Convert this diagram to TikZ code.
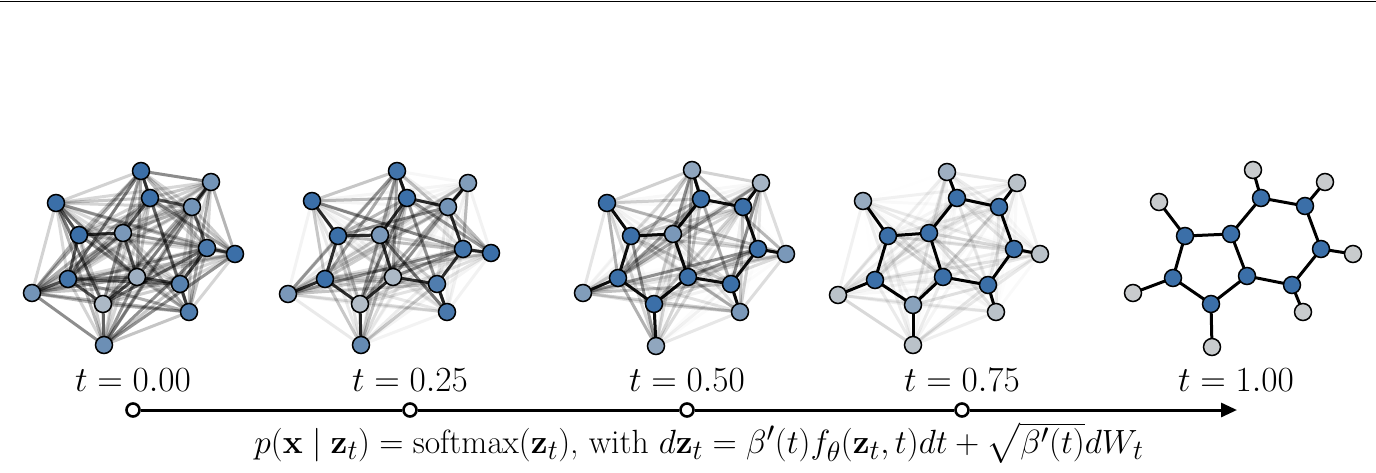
\documentclass[tikz,border=0pt]{standalone}
\usepackage{amsmath}
\usetikzlibrary{arrows.meta}
\definecolor{molblue}{RGB}{59,111,168}
\definecolor{molgrey}{RGB}{200,203,205}
\tikzset{
  edge/.style={line width=3pt,black},
  bond/.style={line width=3pt,black},
  atom/.style={circle,draw=black,line width=1.5pt,minimum size=17pt,inner sep=0pt},
  lbl/.style={font=\Huge,inner sep=0pt,scale=1.42,transform shape},
  eqlbl/.style={font=\Huge,inner sep=0pt,scale=1.35,transform shape},
  tick/.style={circle,draw=black,fill=white,line width=2.6pt,minimum size=13pt,inner sep=0pt}
}
\newcommand\molframe[6]{%
  \foreach \n/\x/\y/\m in {#2} {\coordinate (#1\n) at (\x,\y);}
  \pgfmathsetseed{#3}
  \ifdim #5pt>0pt
  \foreach[count=\i] \a in {A,B,C,D,E,F,G,H,I,J,K,L,M,N,O,P}{%
    \foreach[count=\j] \b in {A,B,C,D,E,F,G,H,I,J,K,L,M,N,O,P}{%
      \ifnum\j>\i
        \pgfmathsetmacro\op{#4+#5*rnd*rnd}
        \draw[edge,opacity=\op] (#1\a)--(#1\b);
      \fi}}
  \fi
  \foreach \a/\b in {A/C,C/G,C/D,D/B,D/H,H/I,H/L,L/O,L/K,K/G,K/N,N/J,N/P,J/M,J/F,F/E,F/G}
    \draw[bond,opacity=#6] (#1\a)--(#1\b);
  \foreach \n/\x/\y/\m in {#2} \node[atom,fill=molblue!\m!molgrey] (#1\n-n) at (#1\n) {};
}
\begin{document}
\begin{tikzpicture}[x=1pt,y=-1pt]
\useasboundingbox (0,0) rectangle (1376,472);
\draw[line width=1pt] (0,1) coordinate (tl) -- (1376,1) coordinate (tr);
% t = 0
\molframe{a}{A/141/171/100,B/211/182/60,C/150/198/100,D/192/207/60,E/56/203/100,F/79/235/100,G/123/233/55,H/207/248/90,I/235/254/100,J/68/279/95,K/137/277/30,L/180/284/80,M/32/293/60,N/103/304/20,O/189/312/85,P/104/345/65}{11}{0.14}{0.5}{0.55}
% t = 0.25
\molframe{b}{A/397/171/95,B/468/183/50,C/407/198/100,D/448/207/60,E/312/201/100,F/338/236/100,G/380/235/55,H/463/249/95,I/491/253/100,J/325/279/100,K/393/277/20,L/437/284/85,M/288/294/55,N/360/304/15,O/447/312/90,P/361/345/70}{23}{0.03}{0.55}{0.8}
% t = 0.50
\molframe{c}{A/692/170/40,B/761/183/25,C/701/199/100,D/743/207/100,E/607/203/100,F/631/236/100,G/673/234/55,H/758/249/100,I/786/254/55,J/618/278/100,K/688/277/100,L/731/284/100,M/583/293/50,N/654/304/100,O/740/312/55,P/656/346/40}{37}{0}{0.55}{0.95}
% t = 0.75
\molframe{d}{A/947/172/30,B/1017/183/10,C/957/198/100,D/999/207/100,E/863/201/35,F/888/236/100,G/929/233/100,H/1014/249/100,I/1040/254/10,J/875/280/100,K/943/277/100,L/988/285/100,M/838/295/10,N/913/305/45,O/996/312/10,P/913/345/10}{5}{0}{0.2}{1}
% t = 1.00
\molframe{e}{A/1253/170/0,B/1325/182/0,C/1261/198/100,D/1305/206/100,E/1159/202/0,F/1185/236/100,G/1231/234/100,H/1321/249/100,I/1353/254/0,J/1173/278/100,K/1247/276/100,L/1292/285/100,M/1133/293/0,N/1211/304/100,O/1303/312/0,P/1212/347/0}{1}{0}{0}{1}
% labels
\node[lbl] (l0) at (133,380) {$t=0.00$};
\node[lbl] (l1) at (410,380) {$t=0.25$};
\node[lbl] (l2) at (687,380) {$t=0.50$};
\node[lbl] (l3) at (962,380) {$t=0.75$};
\node[lbl] (l4) at (1236,380) {$t=1.00$};
% axis
\coordinate (aend) at (1237,410);
\node[tick] (k0) at (133,410) {};
\node[tick] (k1) at (410,410) {};
\node[tick] (k2) at (687,410) {};
\node[tick] (k3) at (962,410) {};
\draw[line width=3pt] (k0)--(k1);
\draw[line width=3pt] (k1)--(k2);
\draw[line width=3pt] (k2)--(k3);
\draw[line width=3pt,-{Triangle[length=16pt,width=14pt]}] (k3)--(aend);
\node[eqlbl] (eq) at (699,443) {$p(\mathbf{x}\mid\mathbf{z}_t)=\mathrm{softmax}(\mathbf{z}_t)$, with $d\mathbf{z}_t=\beta'(t)f_\theta(\mathbf{z}_t,t)dt+\sqrt{\beta'(t)}dW_t$};
\end{tikzpicture}
\end{document}
